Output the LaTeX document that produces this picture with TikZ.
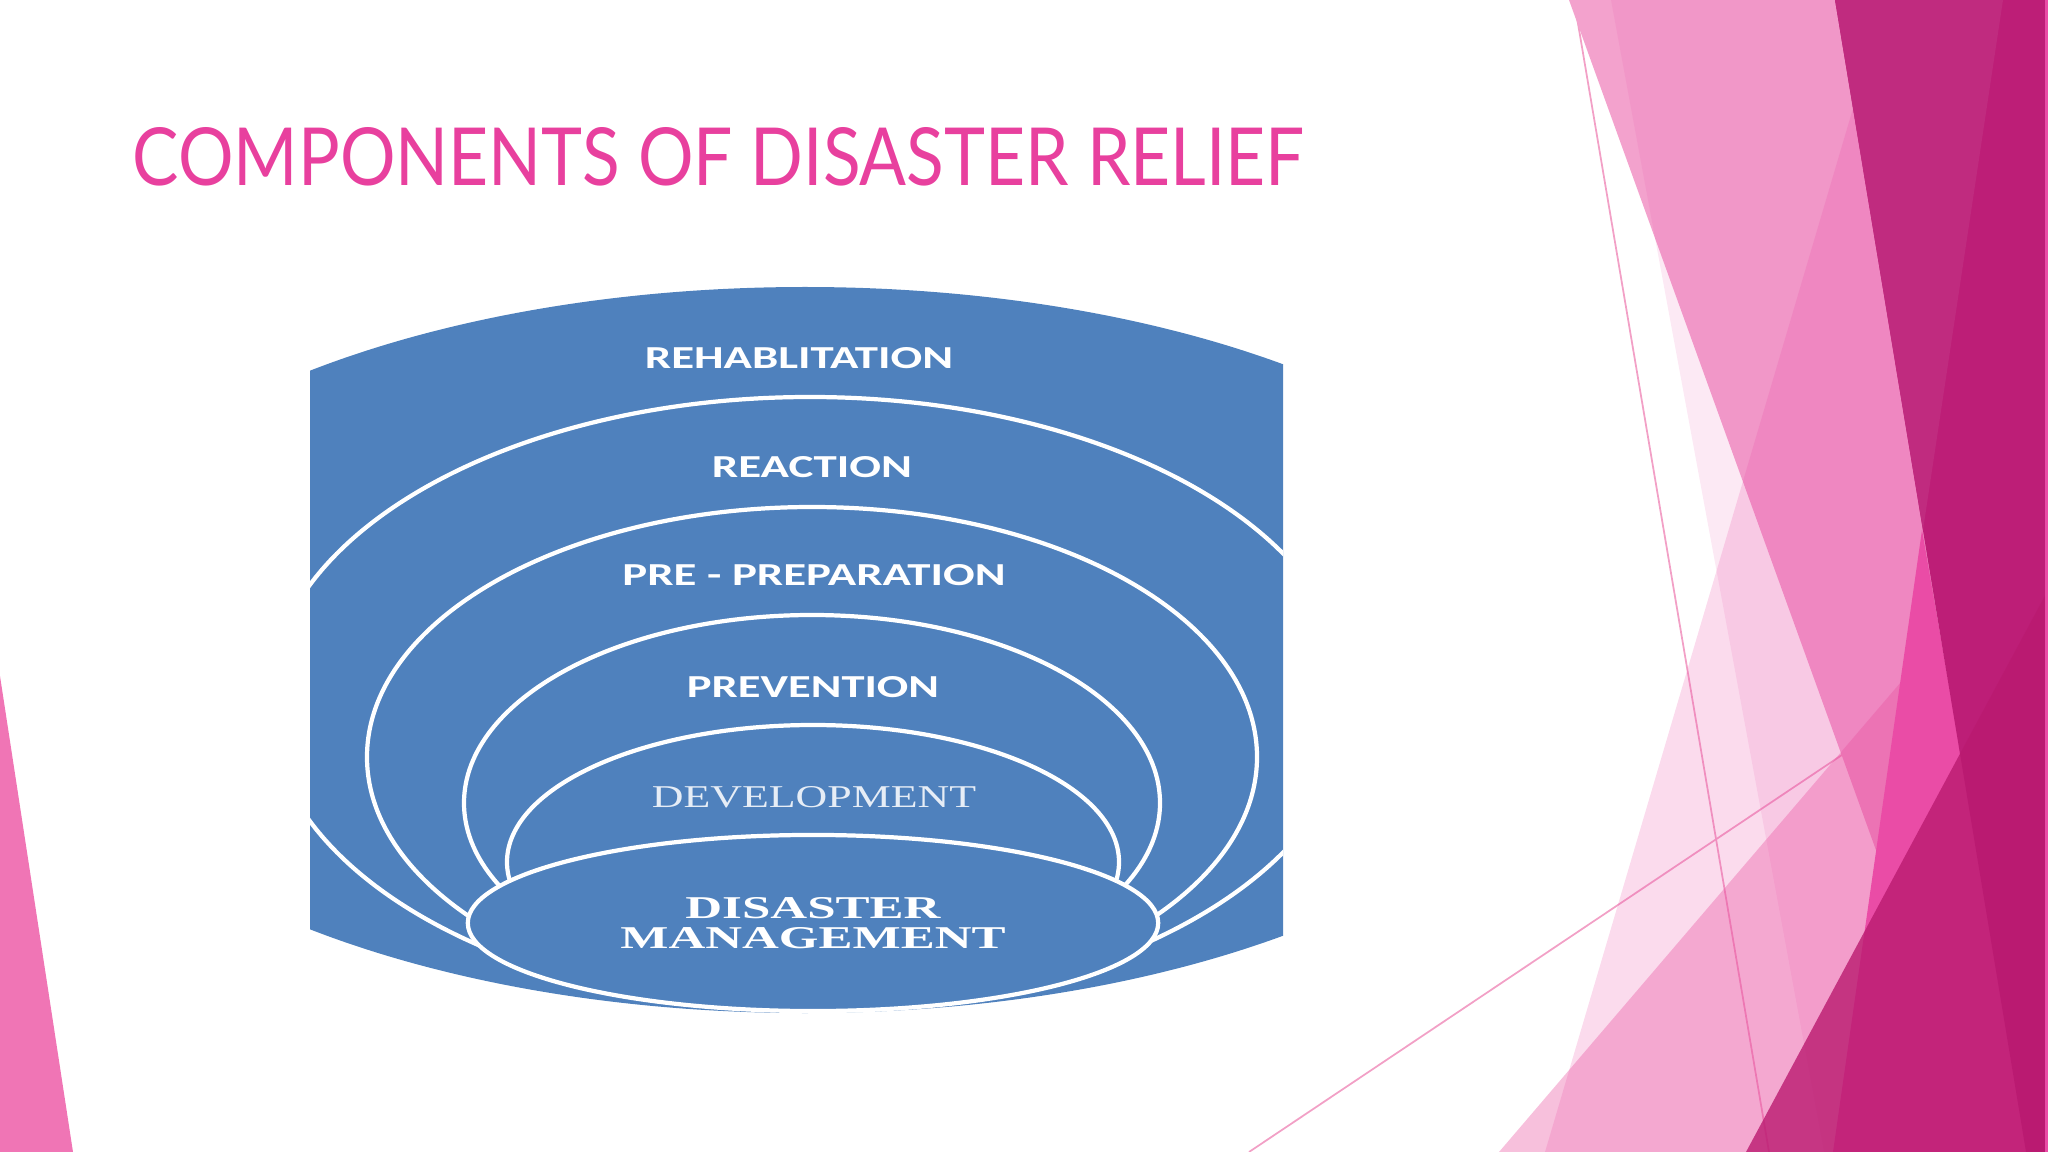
\documentclass[tikz,border=0pt]{standalone}
\usepackage{fontspec}
\setmainfont{Liberation Serif}
\newfontfamily\titlefont{Lato}
\newfontfamily\labelfont{Carlito}
\usetikzlibrary{shapes.geometric}

\definecolor{ringblue}{HTML}{4F81BD}
\definecolor{titlepink}{HTML}{E8409E}
\definecolor{facetlight}{HTML}{F3A2CD}
\definecolor{facetwash}{HTML}{E94BA5}
\definecolor{facetrose}{HTML}{E9509F}
\definecolor{facethot}{HTML}{EA4CA6}
\definecolor{facetmag}{HTML}{BA1A70}
\definecolor{facetdark}{HTML}{BD1E77}
\definecolor{facetplum}{HTML}{C02B7F}
\definecolor{facetfan}{HTML}{F075B5}
\definecolor{facetline}{HTML}{F2A0C6}
\definecolor{devwhite}{HTML}{E6EDF6}

% label squeezed to the width it has on the slide
\newcommand{\fitlbl}[2]{\resizebox{#1}{0.21cm}{#2}}

\begin{document}
\begin{tikzpicture}[x=0.01cm, y=-0.01cm,
        ring/.style={draw=white, line width=1.2pt},
        ringlbl/.style={text=white, inner sep=0pt, font=\labelfont\bfseries},
        serlbl/.style={text=devwhite, inner sep=0pt},
        dmbox/.style={ellipse, draw=white, line width=1.2pt, fill=ringblue,
                      minimum width=6.9cm, minimum height=1.76cm, inner sep=0pt,
                      align=center, text=white, font=\bfseries\fontsize{6}{8.5}\selectfont},
        thin/.style={draw=facetline, line width=0.5pt}]
      \useasboundingbox (0,0) rectangle (2048,1152);
      % Facet shapes, left
      \fill[facetfan] (0,676) -- (73,1152) -- (0,1152) -- cycle;
      % Facet shapes, right
      \draw[thin] (1574,0) -- (1769,1152);
      \draw[thin] (1249,1152) -- (2048,617);
      \fill[facetlight] (1569,0) -- (1840,0) -- (1960,760) -- (1877,853) -- cycle;
      \fill[facetwash, opacity=0.12] (1611,0) -- (2048,0) -- (2048,1152) -- (1824,1152) -- cycle;
      \fill[facetwash, opacity=0.2] (1885,0) -- (2048,0) -- (2048,1152) -- (1545,1152) -- cycle;
      \fill[facetrose, opacity=0.36] (1499,1152) -- (1960,613) -- (2048,613) -- (2048,1152) -- cycle;
      \fill[facethot] (1922,530) -- (2030,1152) -- (1833,1152) -- cycle;
      \fill[facetdark] (1835,0) -- (2048,0) -- (2048,1152) -- (2026,1152) -- cycle;
      \fill[facetplum] (1835,0) -- (2003,0) -- (1923,530) -- cycle;
      \fill[facetmag, opacity=0.8] (1746,1152) -- (2048,590) -- (2048,1152) -- cycle;
      \fill[facethot] (2045,0) rectangle (2048,1152);
      % Titre
      \node[anchor=west, inner sep=0pt, text=titlepink] (title) at (132,157)
            {\resizebox{11.71cm}{0.58cm}{\titlefont COMPONENTS OF DISASTER RELIEF}};
      % Anneaux
      \begin{scope}
        \clip (310,0) rectangle (1283,1152);
        \fill[ringblue] (805,650) ellipse [x radius=775, y radius=363];
        \draw[ring] (810,703) ellipse [x radius=542, y radius=306];
        \draw[ring] (812,757) ellipse [x radius=445, y radius=250];
        \draw[ring] (812,803) ellipse [x radius=348, y radius=188];
        \draw[ring] (813,862) ellipse [x radius=306, y radius=137];
        \node[dmbox] (dm) at (813,923)
              {\resizebox{2.55cm}{0.21cm}{DISASTER}\\
               \resizebox{3.85cm}{0.21cm}{MANAGEMENT}};
      \end{scope}
      % Labels
      \node[ringlbl] (rehab) at (799,358) {\fitlbl{3.08cm}{REHABLITATION}};
      \node[ringlbl] (react) at (812,467) {\fitlbl{2.0cm}{REACTION}};
      \node[ringlbl] (prep)  at (814,575) {\fitlbl{3.83cm}{PRE - PREPARATION}};
      \node[ringlbl] (prev)  at (813,687) {\fitlbl{2.52cm}{PREVENTION}};
      \node[serlbl]  (devel) at (814,797) {\fitlbl{3.24cm}{DEVELOPMENT}};
    \end{tikzpicture}
\end{document}
